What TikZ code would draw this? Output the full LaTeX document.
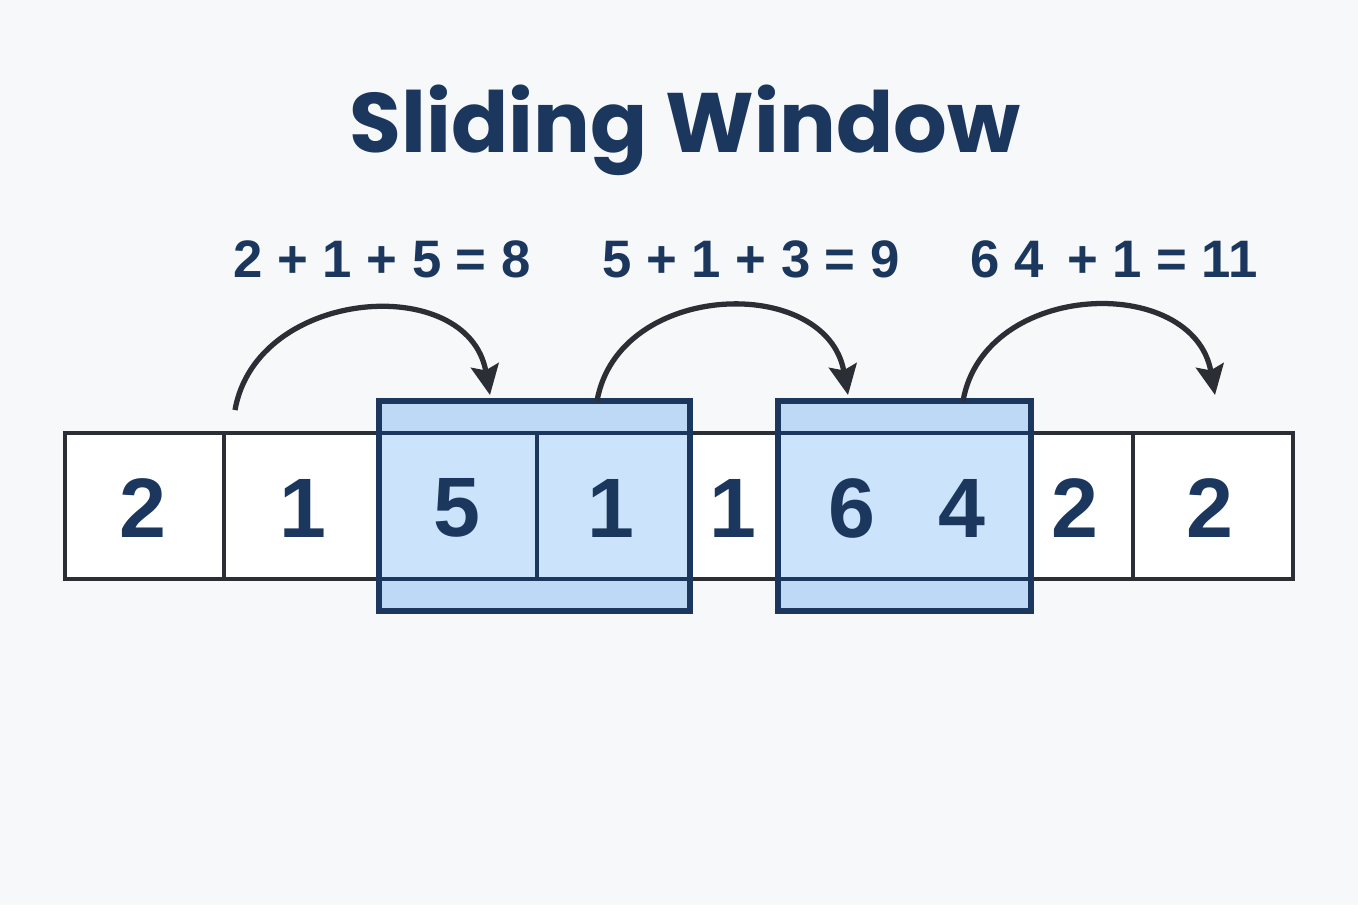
\documentclass[tikz,border=0pt]{standalone}
\usepackage{fontspec}
\setmainfont{Liberation Sans}
\newfontfamily\titlefont{Poppins}
\usetikzlibrary{arrows.meta}
\usepackage{xcolor}
\definecolor{fundo}{HTML}{F7F8F9}
\definecolor{azulescuro}{HTML}{1C375E}
\definecolor{borda}{HTML}{2B2F35}
\definecolor{janela}{HTML}{CCE4FB}
\definecolor{faixa}{HTML}{BDD9F5}

\begin{document}
\begin{tikzpicture}[
        every node/.style={inner sep=0pt, outer sep=0pt},
        cell/.style={draw=borda, line width=1.4pt, fill=white, minimum height=1.46cm},
        wincell/.style={draw=azulescuro, line width=1.4pt, fill=janela, minimum height=1.46cm},
        win/.style={draw=azulescuro, line width=1.6pt, fill=faixa, minimum height=2.10cm},
        num/.style={text=azulescuro, font=\bfseries\fontsize{24}{28}\selectfont},
        soma/.style={text=azulescuro, font=\bfseries\fontsize{15}{18}\selectfont},
        seta/.style={draw=borda, line width=1.5pt, -{Stealth[length=3mm, width=2.8mm, inset=0.5mm]}}
    ]
        \useasboundingbox[fill=fundo] (0,0) rectangle (13.58,9.05);

        % Título
        \node[anchor=base, text=azulescuro] (titulo) at (6.85,7.53) {\titlefont\bfseries\fontsize{24}{29}\selectfont Sliding Window};

        % Células
        \node[cell, minimum width=1.59cm] (c1) at (1.445,3.99) {};
        \node[cell, minimum width=1.55cm] (c2) at (3.015,3.99) {};
        \node[cell, minimum width=0.88cm] (c5) at (7.34,3.99) {};
        \node[cell, minimum width=1.02cm] (c7) at (10.82,3.99) {};
        \node[cell, minimum width=1.60cm] (c8) at (12.13,3.99) {};

        % Janelas
        \node[win, minimum width=3.11cm] (win1) at (5.345,3.99) {};
        \node[win, minimum width=2.53cm] (win2) at (9.045,3.99) {};
        \node[wincell, minimum width=1.58cm] (c3) at (4.58,3.99) {};
        \node[wincell, minimum width=1.53cm] (c4) at (6.135,3.99) {};
        \node[wincell, minimum width=2.53cm] (c6) at (9.045,3.99) {};
        \draw[azulescuro, line width=1.6pt] (win1.north west) rectangle (win1.south east);
        \draw[azulescuro, line width=1.6pt] (win2.north west) rectangle (win2.south east);

        % Valores
        \node[num] (n1) at (1.43,3.97) {2};
        \node[num] (n2) at (3.03,3.97) {1};
        \node[num] (n3) at (4.57,3.97) {5};
        \node[num] (n4) at (6.11,3.97) {1};
        \node[num] (n5) at (7.33,3.97) {1};
        \node[num] (n6) at (8.52,3.97) {6};
        \node[num] (n7) at (9.62,3.97) {4};
        \node[num] (n8) at (10.75,3.97) {2};
        \node[num] (n9) at (12.10,3.97) {2};

        % Somas
        \node[soma] (soma1) at (3.82,6.46) {2 + 1 + 5 = 8};
        \node[soma] (soma2) at (7.51,6.46) {5 + 1 + 3 = 9};
        \node[soma] (soma3) at (11.14,6.46) {6 4 \,+ 1 = 11};

        % Setas
        \coordinate (s1) at (2.35,4.95);
        \coordinate (e1) at (4.90,5.10);
        \coordinate (s2) at (5.97,5.04);
        \coordinate (e2) at (8.48,5.10);
        \coordinate (s3) at (9.63,5.04);
        \coordinate (e3) at (12.15,5.10);
        \draw[seta] (s1) to[out=80, in=100, looseness=1.25] (e1);
        \draw[seta] (s2) to[out=80, in=100, looseness=1.25] (e2);
        \draw[seta] (s3) to[out=80, in=100, looseness=1.25] (e3);
    \end{tikzpicture}
\end{document}
